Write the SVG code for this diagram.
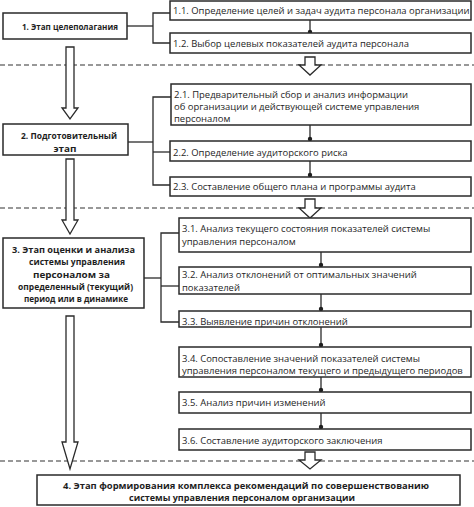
<svg xmlns="http://www.w3.org/2000/svg" width="474" height="507" viewBox="0 0 474 507">
<style>
.box{fill:#fff;stroke:#2a2a2a;stroke-width:1.5}
.t{font-family:"Open Sans","Noto Sans",sans-serif;font-size:9.45px;fill:#1e1e1e}
.b{font-family:"Open Sans","Noto Sans",sans-serif;font-size:9.6px;font-weight:bold;fill:#1e1e1e;text-anchor:middle}
.ln{fill:none;stroke:#2a2a2a;stroke-width:1.3}
.dash{fill:none;stroke:#333;stroke-width:1.2;stroke-dasharray:5,3}
.arr{fill:#fff;stroke:#2a2a2a;stroke-width:1.3;stroke-linejoin:miter}
.dot{fill:#1e1e1e}
</style>
<rect width="474" height="507" fill="#fff"/>
<g id="separators">
<line class="dash" x1="0" y1="65" x2="474" y2="65"/>
<line class="dash" x1="0" y1="208" x2="474" y2="208"/>
<line class="dash" x1="0" y1="461" x2="474" y2="461"/>
</g>
<g id="connectors">
<polyline class="ln" points="127,26 153,26"/>
<polyline class="ln" points="170,13 153,13 153,43 170,43"/>
<line class="ln" x1="310" y1="20" x2="310" y2="33"/><circle class="dot" cx="310" cy="32" r="2.2"/>
<polyline class="ln" points="128,142 153,142"/>
<polyline class="ln" points="171,97 153,97 153,185 170,185"/>
<line class="ln" x1="153" y1="152" x2="170" y2="152"/>
<line class="ln" x1="310" y1="125" x2="310" y2="141"/><circle class="dot" cx="310" cy="139" r="2.2"/>
<line class="ln" x1="310" y1="161" x2="310" y2="177"/><circle class="dot" cx="310" cy="175" r="2.2"/>
<polyline class="ln" points="144,278 161,278"/>
<polyline class="ln" points="179,233 161,233 161,322 179,322"/>
<line class="ln" x1="161" y1="286" x2="179" y2="286"/>
<line class="ln" x1="321" y1="252" x2="321" y2="267"/><circle class="dot" cx="321" cy="265" r="2.2"/>
<line class="ln" x1="321" y1="294" x2="321" y2="311"/><circle class="dot" cx="321" cy="309" r="2.2"/>
<line class="ln" x1="321" y1="327" x2="321" y2="347"/><circle class="dot" cx="321" cy="345" r="2.2"/>
<line class="ln" x1="321" y1="377" x2="321" y2="392"/><circle class="dot" cx="321" cy="390" r="2.2"/>
<line class="ln" x1="321" y1="413" x2="321" y2="429"/><circle class="dot" cx="321" cy="427" r="2.2"/>
<polygon class="arr" points="66,47 74,47 74,108 78,108 70,119 62,108 66,108"/>
<polygon class="arr" points="66,159 74,159 74,220 78,220 70,234 62,220 66,220"/>
<polygon class="arr" points="66,316 74,316 74,442 78,442 70,469 62,442 66,442"/>
<polygon class="arr" points="305,57 315,57 315,65 321,65 310,75 299,65 305,65"/>
<polygon class="arr" points="305,199 315,199 315,208 321,208 310,218 299,208 305,208"/>
<polygon class="arr" points="305,452 315,452 315,460 321,460 310,469 299,460 305,460"/>
</g>
<g id="stage1">
<rect class="box" x="3" y="13" width="124" height="26"/>
<text class="b" x="70" y="29.5" textLength="96" lengthAdjust="spacingAndGlyphs">1. Этап целеполагания</text>
</g>
<g id="n1_1">
<rect class="box" x="170" y="1" width="301" height="19"/>
<text class="t" x="173" y="14">1.1. Определение целей и задач аудита персонала организации</text>
</g>
<g id="n1_2">
<rect class="box" x="170" y="33" width="301" height="20"/>
<text class="t" x="173" y="46.5">1.2. Выбор целевых показателей аудита персонала</text>
</g>
<g id="stage2">
<rect class="box" x="3" y="124" width="125" height="31"/>
<text class="b" x="69" y="138.5" textLength="96" lengthAdjust="spacingAndGlyphs">2. Подготовительный</text>
<text class="b" x="65" y="151.5" textLength="23" lengthAdjust="spacingAndGlyphs">этап</text>
</g>
<g id="n2_1">
<rect class="box" x="171" y="84" width="300" height="41"/>
<text class="t" x="174" y="97.5">2.1. Предварительный сбор и анализ информации</text>
<text class="t" x="174" y="110">об организации и действующей системе управления</text>
<text class="t" x="174" y="122">персоналом</text>
</g>
<g id="n2_2">
<rect class="box" x="170" y="141" width="301" height="20"/>
<text class="t" x="173" y="155.5">2.2. Определение аудиторского риска</text>
</g>
<g id="n2_3">
<rect class="box" x="170" y="177" width="301" height="19"/>
<text class="t" x="173" y="189.5">2.3. Составление общего плана и программы аудита</text>
</g>
<g id="stage3">
<rect class="box" x="3" y="238" width="141" height="70"/>
<text class="b" x="73.5" y="252.5" textLength="123" lengthAdjust="spacingAndGlyphs">3. Этап оценки и анализа</text>
<text class="b" x="77" y="265" textLength="96" lengthAdjust="spacingAndGlyphs">системы управления</text>
<text class="b" x="71.5" y="277.5" textLength="77" lengthAdjust="spacingAndGlyphs">персоналом за</text>
<text class="b" x="75.5" y="289.5" textLength="115" lengthAdjust="spacingAndGlyphs">определенный (текущий)</text>
<text class="b" x="76" y="301.5" textLength="104" lengthAdjust="spacingAndGlyphs">период или в динамике</text>
</g>
<g id="n3_1">
<rect class="box" x="179" y="218" width="292" height="34"/>
<text class="t" x="182" y="231.5">3.1. Анализ текущего состояния показателей системы</text>
<text class="t" x="182" y="245">управления персоналом</text>
</g>
<g id="n3_2">
<rect class="box" x="179" y="267" width="292" height="27"/>
<text class="t" x="182" y="277.5">3.2. Анализ отклонений от оптимальных значений</text>
<text class="t" x="182" y="290.5">показателей</text>
</g>
<g id="n3_3">
<rect class="box" x="179" y="311" width="292" height="16"/>
<text class="t" x="182" y="325">3.3. Выявление причин отклонений</text>
</g>
<g id="n3_4">
<rect class="box" x="179" y="347" width="292" height="30"/>
<text class="t" x="182" y="361.5">3.4. Сопоставление значений показателей системы</text>
<text class="t" x="182" y="374">управления персоналом текущего и предыдущего периодов</text>
</g>
<g id="n3_5">
<rect class="box" x="179" y="392" width="292" height="21"/>
<text class="t" x="182" y="405.5">3.5. Анализ причин изменений</text>
</g>
<g id="n3_6">
<rect class="box" x="179" y="429" width="292" height="21"/>
<text class="t" x="182" y="443.5">3.6. Составление аудиторского заключения</text>
</g>
<g id="stage4">
<rect class="box" x="37" y="475" width="423" height="30"/>
<text class="b" x="246" y="488.5" textLength="366" lengthAdjust="spacingAndGlyphs">4. Этап формирования комплекса рекомендаций по совершенствованию</text>
<text class="b" x="242" y="500.5" textLength="226" lengthAdjust="spacingAndGlyphs">системы управления персоналом организации</text>
</g>
</svg>
